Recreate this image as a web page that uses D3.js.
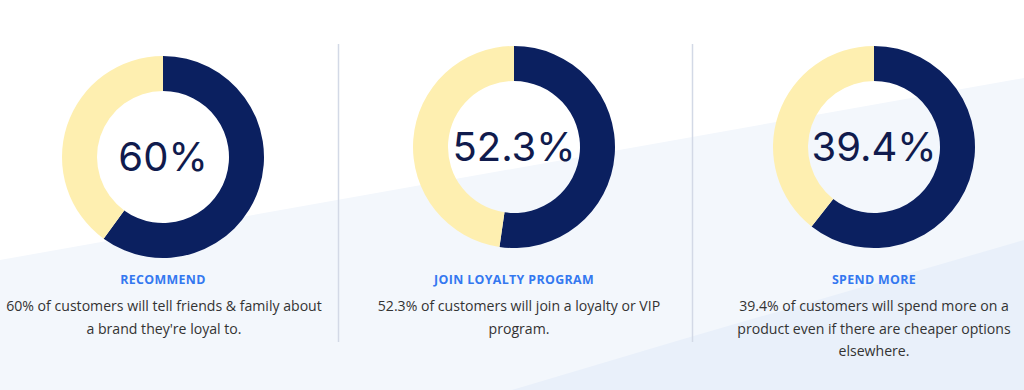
<!DOCTYPE html>
<html lang="en">
<head>
  <meta charset="UTF-8">
  <title>Customer Loyalty Stats</title>
  <script src="https://d3js.org/d3.v7.min.js"></script>
  <style>
    html, body { margin: 0; padding: 0; background: #fff; }
    svg { display: block; }
  </style>
</head>
<body>
  <svg id="viz" width="1024" height="390"></svg>
  <script>
    // values
    const titles = ["RECOMMEND", "JOIN LOYALTY PROGRAM", "SPEND MORE"];
    const valueLabels = ["60%", "52.3%", "39.4%"];
    // navy share of each ring as drawn (the third ring shows the complement)
    const arcShares = [60, 52.3, 60.6];
    const descriptions = [
      ["60% of customers will tell friends & family about", "a brand they're loyal to."],
      ["52.3% of customers will join a loyalty or VIP", "program."],
      ["39.4% of customers will spend more on a", "product even if there are cheaper options", "elsewhere."]
    ];

    const svg = d3.select("#viz");

    // background diagonal bands
    const bands = [
      { fill: "#f3f7fc", pts: [[0, 260], [1024, 78], [1024, 390], [0, 390]] },
      { fill: "#e9f0fa", pts: [[512, 390], [680, 340], [1024, 240], [1024, 390]] }
    ];
    svg.selectAll("polygon.band").data(bands).enter()
      .append("polygon").attr("class", "band")
      .attr("points", d => d.pts.map(p => p.join(",")).join(" "))
      .attr("fill", d => d.fill);

    // column layout
    const x = d3.scaleOrdinal().domain(titles).range([163, 514, 874]);
    const textX = d3.scaleOrdinal().domain(titles).range([164, 519, 874]);
    const centerY = [157, 147, 147];
    const R = 101, r = 66;

    const pie = d3.pie().sort(null).value(d => d);
    const arc = d3.arc().innerRadius(r).outerRadius(R);
    const colors = ["#0b2060", "#feefb0"];

    // dividers
    svg.selectAll("line.div").data([338.5, 692.5]).enter()
      .append("line").attr("class", "div")
      .attr("x1", d => d).attr("x2", d => d)
      .attr("y1", 44).attr("y2", 342)
      .attr("stroke", "#d3d9e6").attr("stroke-width", 1.5);

    titles.forEach((t, i) => {
      const g = svg.append("g")
        .attr("transform", `translate(${x(t)},${centerY[i]})`);
      g.selectAll("path")
        .data(pie([arcShares[i], 100 - arcShares[i]]))
        .enter().append("path")
        .attr("d", arc)
        .attr("fill", (d, j) => colors[j]);

      g.append("text")
        .attr("text-anchor", "middle")
        .attr("y", 14)
        .attr("font-family", "Inter, 'Noto Sans', sans-serif")
        .attr("font-weight", 400)
        .attr("font-size", 40)
        .attr("fill", "#101b4d")
        .text(valueLabels[i]);

      svg.append("text")
        .attr("x", x(t)).attr("y", 284)
        .attr("text-anchor", "middle")
        .attr("font-family", "'Open Sans', sans-serif")
        .attr("font-weight", 700)
        .attr("font-size", 12.4)
        .attr("letter-spacing", 0.35)
        .attr("fill", "#3478f0")
        .text(t);

      svg.append("g").selectAll("text")
        .data(descriptions[i]).enter()
        .append("text")
        .attr("x", textX(t))
        .attr("y", (d, j) => 311 + j * 22.5)
        .attr("text-anchor", "middle")
        .attr("font-family", "'Open Sans', sans-serif")
        .attr("font-size", 14.1)
        .attr("fill", "#333")
        .text(d => d);
    });
  </script>
</body>
</html>
